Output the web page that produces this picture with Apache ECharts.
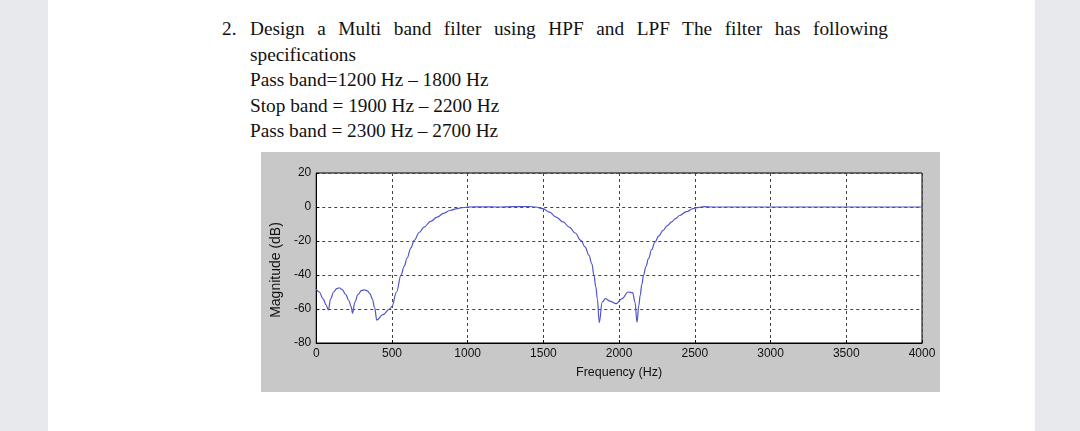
<!DOCTYPE html>
<html>
<head>
<meta charset="utf-8">
<script src="https://cdn.jsdelivr.net/npm/echarts@6/dist/echarts.min.js"></script>
<style>
  html, body {
    margin: 0;
    padding: 0;
    width: 1080px;
    height: 431px;
    overflow: hidden;
    background: #fff;
  }
  .side {
    position: absolute;
    top: 0;
    height: 431px;
    background: #e8e9ec;
  }
  .side.left { left: 0; width: 48px; }
  .side.right { left: 1035px; width: 45px; }
  .question {
    position: absolute;
    left: 250px;
    top: 16px;
    width: 638px;
    font-family: "Liberation Serif", "Times New Roman", serif;
    font-size: 19.3px;
    line-height: 25.5px;
    color: #111;
  }
  .question .num {
    position: absolute;
    left: -28px;
    top: 0;
  }
  .question p {
    margin: 0;
    text-align: justify;
  }
  #chart {
    position: absolute;
    left: 261px;
    top: 152px;
    width: 679px;
    height: 240px;
  }
</style>
</head>
<body>
<div class="side left"></div>
<div class="side right"></div>
<div class="question">
  <span class="num">2.</span>
  <p>Design a Multi band filter using HPF and LPF The filter has following specifications</p>
  <div>Pass band=1200 Hz – 1800 Hz</div>
  <div>Stop band = 1900 Hz – 2200 Hz</div>
  <div>Pass band = 2300 Hz – 2700 Hz</div>
</div>
<div id="chart"></div>
<script>
// frequency response
const freqHz = [
  0, 20, 45, 65, 80, 95, 115, 135, 152, 170, 195, 215, 230, 240,
  255, 275, 300, 320, 340, 355, 370, 385, 400, 440, 484, 500, 530, 560,
  580, 600, 625, 647, 680, 712, 755, 799, 840, 887, 930, 974, 1000,
  1100, 1200, 1300, 1400, 1450, 1497, 1540, 1584, 1630, 1671, 1710, 1747,
  1775, 1801, 1820, 1834, 1846, 1856, 1869, 1888, 1910, 1943, 1980, 2020,
  2059, 2089, 2105, 2118, 2130, 2139, 2150, 2161, 2177, 2194, 2215, 2237,
  2262, 2290, 2318, 2346, 2372, 2400, 2445, 2488, 2525, 2560, 2620,
  3000, 3500, 4000
]
const magnitudeDb = [
  -48.5, -50, -54, -57.5, -60.5, -54, -50, -48, -47.5, -48.5, -51.5, -55, -58.5, -62.5,
  -56, -51.5, -49, -48.8, -49.5, -51, -54, -59, -66.5, -63.3, -60, -58.5, -50, -40,
  -35, -30, -24, -19.6, -15, -11.8, -8.5, -5.9, -3.8, -1.9, -0.9, -0.3, 0,
  0.1, 0, 0.2, 0.3, 0, -1, -3, -5.9, -8.8, -11.8, -15.3, -19.6,
  -23.5, -28.4, -33.5, -40.2, -47, -53.9, -68, -55.9, -53.9, -55.5, -56.8, -53.9,
  -50, -50.4, -56, -67.8, -58, -52, -45.5, -40.2, -35, -30.4, -25, -20.6,
  -17, -13.8, -11, -8.8, -6.8, -5, -2.7, -1, -0.2, 0.2, 0,
  0, 0, 0
]
const xTicks = { min: 0, max: 4000, step: 500 }
const yTicks = { min: -80, max: 20, step: 20 }

const points = freqHz.map((f, i) => [f, magnitudeDb[i]])

const gridLine = {
  show: true,
  lineStyle: { color: '#444', type: [3, 3], width: 1 }
}
const tickFont = { fontFamily: 'Liberation Sans', fontSize: 12, color: '#111' }

const chart = echarts.init(document.getElementById('chart'))
chart.setOption({
  backgroundColor: '#c8c8c8',
  animation: false,
  grid: {
    left: 50,
    top: 21,
    right: 18,
    bottom: 49,
    show: true,
    backgroundColor: '#fff',
    borderColor: '#000',
    borderWidth: 1
  },
  xAxis: {
    type: 'value',
    min: xTicks.min,
    max: xTicks.max,
    interval: xTicks.step,
    name: 'Frequency (Hz)',
    nameLocation: 'middle',
    nameGap: 23,
    nameTextStyle: { fontFamily: 'Liberation Sans', fontSize: 12.5, color: '#111' },
    axisLine: { show: true, onZero: false, lineStyle: { color: '#000' } },
    axisTick: { show: true, inside: true, length: 3, lineStyle: { color: '#000' } },
    axisLabel: { ...tickFont, margin: 5, formatter: (v) => String(v) },
    splitLine: gridLine
  },
  yAxis: {
    type: 'value',
    min: yTicks.min,
    max: yTicks.max,
    interval: yTicks.step,
    name: 'Magnitude (dB)',
    nameLocation: 'middle',
    nameGap: 33,
    nameTextStyle: { fontFamily: 'Liberation Sans', fontSize: 14, color: '#111', padding: [0, 24, 0, 0] },
    axisLine: { show: true, onZero: false, lineStyle: { color: '#000' } },
    axisTick: { show: true, inside: true, length: 3, lineStyle: { color: '#000' } },
    axisLabel: { ...tickFont, margin: 5, formatter: (v) => String(v) },
    splitLine: gridLine
  },
  series: [{
    type: 'line',
    data: points,
    showSymbol: false,
    smooth: 0.4,
    smoothMonotone: 'x',
    lineStyle: { color: '#5055c8', width: 1.2 }
  }]
})
</script>
</body>
</html>
